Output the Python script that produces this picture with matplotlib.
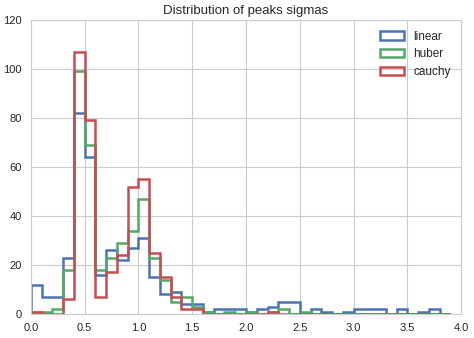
import numpy as np
import matplotlib
matplotlib.use("Agg")
import matplotlib.pyplot as plt
import seaborn as sns

# Histogram counts per 0.1-wide bin of the fitted peak sigma
bin_edges = np.round(np.arange(0.0, 3.95, 0.1), 2)
linear = [12, 7, 7, 23, 82, 64, 16, 26, 22, 27, 31, 15, 8, 9, 4, 4, 1, 2, 2, 2,
          1, 2, 3, 5, 5, 0, 2, 1, 0, 1, 2, 2, 2, 0, 2, 0, 1, 2, 0]
huber = [1, 1, 2, 18, 99, 69, 18, 23, 29, 34, 47, 23, 14, 5, 7, 3, 1, 0, 1, 0,
         1, 0, 1, 2, 0, 1, 0, 0, 0, 0, 0, 0, 0, 0, 0, 0, 0, 0, 0]
cauchy = [1, 0, 0, 6, 107, 79, 7, 17, 24, 52, 55, 25, 15, 7, 2, 2, 0, 0, 0, 0,
          0, 0, 1, 0, 0, 0, 0, 0, 0, 0, 0, 0, 0, 0, 0, 0, 0, 0, 0]
series = [("linear", linear), ("huber", huber), ("cauchy", cauchy)]
colors = ['#4C72B0', '#55A868', '#C44E52']

sns.set_style("whitegrid")
plt.rcParams['font.family'] = ['Liberation Sans', 'DejaVu Sans']

fig = plt.figure(figsize=(4.74, 3.38), dpi=100)
ax = fig.add_axes([0.065, 0.071, 0.908, 0.870])

centers = (bin_edges[:-1] + bin_edges[1:]) / 2
for (name, counts), c in zip(series, colors):
    ax.hist(centers, bins=bin_edges, weights=counts, histtype='step',
            linewidth=1.8, color=c, label=name)

ax.set_xlim(0, 4)
ax.set_ylim(0, 120)
ax.set_xticks(np.arange(0, 4.01, 0.5))
ax.set_yticks(np.arange(0, 121, 20))
ax.tick_params(labelsize=8, pad=3)
for s in ax.spines.values():
    s.set_color('0.8')
ax.set_title('Distribution of peaks sigmas', fontsize=9.5, pad=4)
ax.legend(loc='upper right', fontsize=8.5, frameon=False)

fig.savefig('out.png', dpi=100)
